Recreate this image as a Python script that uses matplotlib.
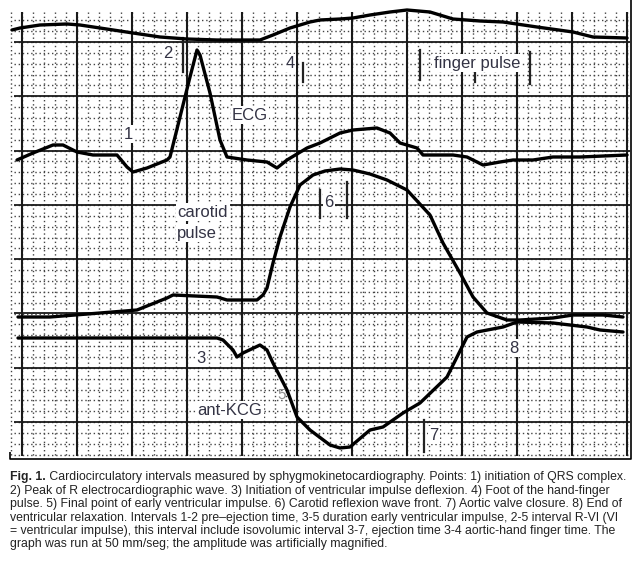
import numpy as np
import matplotlib
matplotlib.use("Agg")
import matplotlib.pyplot as plt

# recording, x = paper position, y = deflection (paper units, down is positive)
finger_t = [12, 20, 40, 67, 80, 100, 133, 160, 187, 217, 260, 273, 290, 310, 320, 340, 353,
            370, 390, 407, 430, 453, 480, 503, 537, 573, 593, 627]
finger_y = [30, 28, 25, 24, 25, 28, 33, 37, 39, 40, 40, 35, 28, 22, 20, 19, 18,
            15, 12, 10, 12, 19, 21, 22, 27, 32, 37, 38]

ecg_t = [17, 33, 53, 63, 77, 93, 117, 127, 133, 147, 167, 170, 180, 190, 197, 200, 210, 220,
         227, 247, 267, 277, 287, 307, 320, 340, 353, 377, 390, 400, 417, 423, 453, 467, 483,
         500, 513, 533, 553, 580, 627]
ecg_y = [160, 153, 145, 145, 152, 155, 155, 167, 172, 168, 160, 157, 117, 77, 50, 55, 93, 140,
         157, 160, 162, 168, 160, 148, 143, 133, 130, 128, 133, 143, 148, 155, 155, 157, 165,
         162, 160, 160, 157, 157, 155]

carotid_t = [18, 50, 100, 137, 167, 173, 217, 227, 257, 263, 267, 273, 280, 290, 300, 313, 325,
             340, 353, 370, 387, 407, 430, 443, 460, 473, 487, 507, 520, 553, 573, 603, 623]
carotid_y = [317, 317, 313, 310, 298, 295, 297, 300, 300, 295, 288, 263, 237, 207, 185, 175, 171,
             169, 170, 174, 180, 190, 215, 243, 273, 297, 313, 320, 320, 318, 315, 315, 317]

kcg_t = [18, 67, 133, 217, 223, 233, 237, 243, 260, 267, 273, 287, 297, 310, 330, 340, 350,
         370, 383, 403, 420, 447, 467, 477, 503, 517, 553, 587, 600, 623]
kcg_y = [338, 338, 338, 338, 340, 350, 357, 353, 345, 350, 363, 390, 417, 430, 445, 448, 447,
         430, 427, 413, 403, 377, 337, 332, 327, 322, 323, 327, 330, 332]

# point numbers and trace names
labels = ["1", "2", "3", "4", "5", "6", "7", "8"]
label_x = [128, 168, 201, 290, 282, 329, 434, 514]
label_y = [134, 53, 358, 63, 395, 202, 435, 348]
names = ["ECG", "finger pulse", "carotid", "pulse", "ant-KCG"]
name_x = [250, 477, 203, 197, 230]
name_y = [115, 63, 212, 233, 410]

# short reference strokes scribbled on the paper
stroke_x = [183, 303, 420, 475, 530, 320, 347, 424]
stroke_y0 = [38, 63, 50, 55, 52, 190, 182, 420]
stroke_y1 = [72, 82, 80, 82, 84, 218, 218, 452]

caption = [
    ("Fig. 1.", " Cardiocirculatory intervals measured by sphygmokinetocardiography. Points: 1) initiation of QRS complex."),
    ("", "2) Peak of R electrocardiographic wave. 3) Initiation of ventricular impulse deflexion. 4) Foot of the hand-finger"),
    ("", "pulse. 5) Final point of early ventricular impulse. 6) Carotid reflexion wave front. 7) Aortic valve closure. 8) End of"),
    ("", "ventricular relaxation. Intervals 1-2 pre\u2013ejection time, 3-5 duration early ventricular impulse, 2-5 interval R-VI (VI"),
    ("", "= ventricular impulse), this interval include isovolumic interval 3-7, ejection time 3-4 aortic-hand finger time. The"),
    ("", "graph was run at 50 mm/seg; the amplitude was artificially magnified."),
]

fig = plt.figure(figsize=(6.4, 5.61), dpi=100)
ax = fig.add_axes([0, 0, 1, 1])
ax.set_xlim(0, 640)
ax.set_ylim(561, 0)
ax.axis("off")

# chart paper: fine dotted grid plus bold major lines
x0, x1, y0, y1 = 14, 630, 12, 456
major_x = np.arange(22, 630, 55)
major_y = np.linspace(42, 422, 8)
minor_x = np.arange(major_x[0] - 11, 630, 11)
minor_y = np.arange(major_y[0] - 21.7, y1, 10.86)
ax.vlines(minor_x, y0, y1, color="#444444", lw=1.0, linestyles=(0, (1, 2.0)))
ax.hlines(minor_y, x0, x1, color="#444444", lw=1.0, linestyles=(0, (1, 2.0)))
ax.vlines(major_x, y0, y1, color="#1a1a1a", lw=1.5)
ax.hlines(major_y, x0, x1, color="#1a1a1a", lw=1.3)

# frame
ax.plot([10, 10, 631, 631], [452, 459, 459, 0], color="black", lw=1.2, solid_capstyle="butt")

for xs, a, b in zip(stroke_x, stroke_y0, stroke_y1):
    ax.plot([xs, xs], [a, b], color="#222222", lw=1.6)

for t, y in [(finger_t, finger_y), (ecg_t, ecg_y), (carotid_t, carotid_y), (kcg_t, kcg_y)]:
    ax.plot(t, y, color="black", lw=2.4, solid_joinstyle="round", solid_capstyle="round")

box = dict(facecolor="white", edgecolor="none", pad=1.0)
for s, x, y in zip(labels, label_x, label_y):
    faint = s == "5"
    ax.text(x, y, s, fontsize=11 if faint else 12, color="#8a8a8a" if faint else "#333344",
            family="Liberation Sans", ha="center", va="center",
            bbox=None if faint else box)
for s, x, y in zip(names, name_x, name_y):
    ax.text(x, y, s, fontsize=12, color="#333344", family="Liberation Sans",
            ha="center", va="center", bbox=box)

for i, (bold, rest) in enumerate(caption):
    y = 477 + i * 13.5
    if bold:
        t = ax.text(10, y, bold, fontsize=8.8, weight="bold", color="#222222",
                    family="Liberation Sans", va="center")
        ax.annotate(rest, xycoords=t, xy=(1, 0.5), va="center", fontsize=8.8,
                    color="#222222", family="Liberation Sans")
    else:
        ax.text(10, y, rest, fontsize=8.8, color="#222222", family="Liberation Sans", va="center")

fig.savefig("out.png", dpi=100)
